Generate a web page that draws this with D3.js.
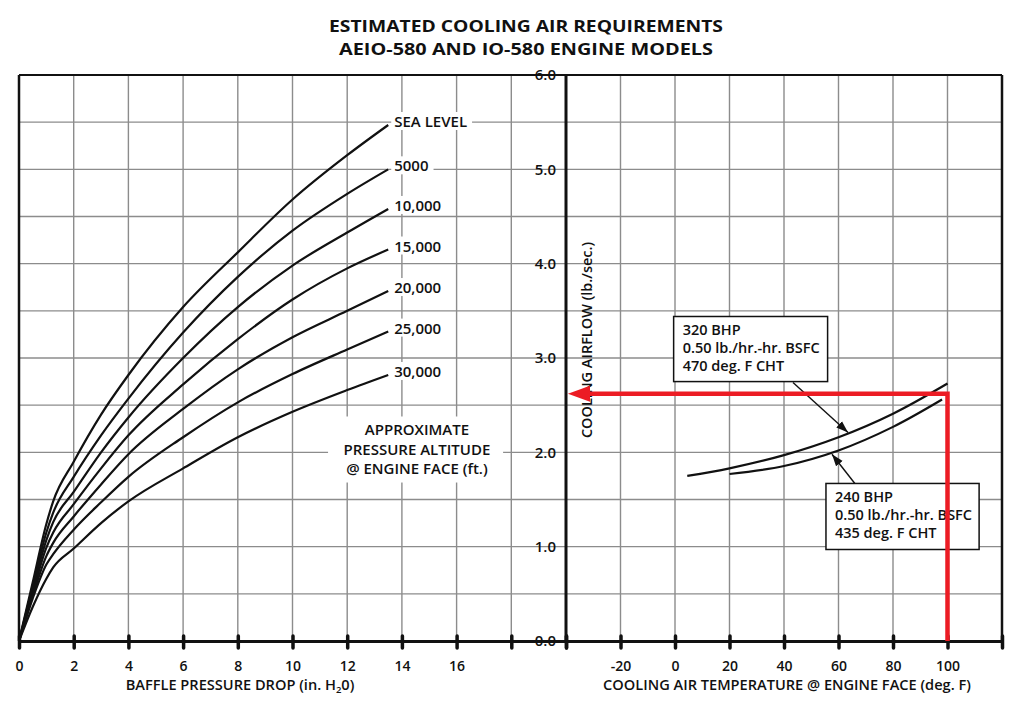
<!DOCTYPE html>
<html>
<head>
<meta charset="utf-8">
<script src="https://cdn.jsdelivr.net/npm/d3@7"></script>
<style>
  body { margin: 0; background: #fff; }
  svg text { font-family: "Open Sans", sans-serif; font-weight: 600; fill: #111; }
</style>
</head>
<body>
<svg id="chart" width="1024" height="713"></svg>
<script>
// left panel: airflow (lb/sec) against baffle pressure drop, one curve per altitude
var pressureDrop = [0, 0.5, 1, 1.25, 2, 3, 4, 6, 8, 10, 12, 13.5];
var altitudeLabels = ["SEA LEVEL", "5000", "10,000", "15,000", "20,000", "25,000", "30,000"];
var flowSeaLevel = [0, 0.62, 1.24, 1.48, 1.90, 2.40, 2.82, 3.54, 4.12, 4.68, 5.15, 5.47];
var flow5000     = [0, 0.58, 1.15, 1.36, 1.74, 2.18, 2.57, 3.27, 3.86, 4.35, 4.74, 5.00];
var flow10000    = [0, 0.55, 1.07, 1.26, 1.58, 2.00, 2.37, 3.00, 3.54, 3.98, 4.33, 4.58];
var flow15000    = [0, 0.51, 0.99, 1.15, 1.45, 1.83, 2.18, 2.72, 3.20, 3.62, 3.95, 4.15];
var flow20000    = [0, 0.48, 0.90, 1.04, 1.32, 1.66, 1.98, 2.46, 2.88, 3.22, 3.50, 3.71];
var flow25000    = [0, 0.45, 0.81, 0.92, 1.18, 1.47, 1.74, 2.16, 2.53, 2.83, 3.09, 3.28];
var flow30000    = [0, 0.36, 0.66, 0.78, 0.98, 1.25, 1.48, 1.83, 2.16, 2.43, 2.66, 2.82];
var flowByAltitude = [flowSeaLevel, flow5000, flow10000, flow15000, flow20000, flow25000, flow30000];

// right panel: airflow against cooling air temperature
var temp320 = [4.5, 20, 40, 60, 80, 100];
var flow320 = [1.75, 1.83, 1.97, 2.16, 2.41, 2.73];
var temp240 = [20, 40, 60, 80, 98];
var flow240 = [1.77, 1.855, 2.02, 2.27, 2.56];
var label320 = ["320 BHP", "0.50 lb./hr.-hr. BSFC", "470 deg. F CHT"];
var label240 = ["240 BHP", "0.50 lb./hr.-hr. BSFC", "435 deg. F CHT"];

// example reading shown in red
var exampleTemp = 100;
var exampleFlow = 2.62;

var pressureTicks = [0, 2, 4, 6, 8, 10, 12, 14, 16];
var tempTicks = [-20, 0, 20, 40, 60, 80, 100];
var flowTicks = [0, 1, 2, 3, 4, 5, 6];

var svg = d3.select("#chart");
var xL = d3.scaleLinear().domain([0, 20]).range([19, 566]);
var xR = d3.scaleLinear().domain([-40, 120]).range([566, 1002]);
var y = d3.scaleLinear().domain([0, 6]).range([641, 75]);

var defs = svg.append("defs");
defs.append("marker")
  .attr("id", "arrow")
  .attr("viewBox", "0 0 10 10")
  .attr("refX", 10).attr("refY", 5)
  .attr("markerWidth", 12).attr("markerHeight", 12)
  .attr("markerUnits", "userSpaceOnUse")
  .attr("orient", "auto")
  .append("path").attr("d", "M0,1.5 L10,5 L0,8.5 Z").attr("fill", "#111");

// title
var title = svg.append("g").attr("text-anchor", "middle");
title.append("text").attr("x", 526).attr("y", 32)
  .attr("font-size", 16.5).style("font-weight", 700)
  .attr("textLength", 394).attr("lengthAdjust", "spacingAndGlyphs")
  .text("ESTIMATED COOLING AIR REQUIREMENTS");
title.append("text").attr("x", 526).attr("y", 55)
  .attr("font-size", 16.5).style("font-weight", 700)
  .attr("textLength", 374).attr("lengthAdjust", "spacingAndGlyphs")
  .text("AEIO-580 AND IO-580 ENGINE MODELS");

// grid
var grid = svg.append("g").attr("stroke", "#8c8c8c").attr("stroke-width", 1.4);
grid.selectAll(".gl").data(d3.range(2, 20, 2)).enter().append("line")
  .attr("x1", d => xL(d)).attr("x2", d => xL(d))
  .attr("y1", y(0)).attr("y2", y(6));
grid.selectAll(".gr").data(d3.range(-20, 120, 20)).enter().append("line")
  .attr("x1", d => xR(d)).attr("x2", d => xR(d))
  .attr("y1", y(0)).attr("y2", y(6));
grid.selectAll(".gh").data(d3.range(0.5, 6, 0.5)).enter().append("line")
  .attr("x1", xL(0)).attr("x2", xR(120))
  .attr("y1", d => y(d)).attr("y2", d => y(d));

// white patch behind the altitude note
svg.append("rect")
  .attr("x", xL(11.3)).attr("y", y(2.38))
  .attr("width", xL(17.7) - xL(11.3)).attr("height", y(1.68) - y(2.38))
  .attr("fill", "#fff");

// frame
var frame = svg.append("g").attr("stroke", "#111").attr("fill", "none");
frame.append("line").attr("x1", xL(0)).attr("x2", xR(120)).attr("y1", y(6)).attr("y2", y(6)).attr("stroke-width", 2);
frame.append("line").attr("x1", xL(0)).attr("x2", xL(0)).attr("y1", y(0)).attr("y2", y(6)).attr("stroke-width", 2.5);
frame.append("line").attr("x1", xL(20)).attr("x2", xL(20)).attr("y1", y(0)).attr("y2", y(6)).attr("stroke-width", 3);
frame.append("line").attr("x1", xR(120)).attr("x2", xR(120)).attr("y1", y(0)).attr("y2", y(6)).attr("stroke-width", 2.5);

// bottom axes
function styleAxis(g) {
  g.select(".domain").attr("stroke", "#111").attr("stroke-width", 3);
  g.selectAll(".tick line").attr("y1", -5).attr("y2", 7)
    .attr("stroke", "#111").attr("stroke-width", 3.5).attr("stroke-linecap", "round");
  g.selectAll(".tick text").attr("font-size", 14).attr("fill", "#111")
    .style("font-family", "'Open Sans', sans-serif").style("font-weight", 600);
}
svg.append("g").attr("transform", "translate(0," + y(0) + ")")
  .call(d3.axisBottom(xL).tickValues(d3.range(0, 21, 2)).tickSizeOuter(0).tickPadding(14)
    .tickFormat(d => pressureTicks.indexOf(d) >= 0 ? d : ""))
  .call(styleAxis);
svg.append("g").attr("transform", "translate(0," + y(0) + ")")
  .call(d3.axisBottom(xR).tickValues(d3.range(-40, 121, 20)).tickSizeOuter(0).tickPadding(14)
    .tickFormat(d => tempTicks.indexOf(d) >= 0 ? d : ""))
  .call(styleAxis);

// airflow tick labels beside the divider
var yAxis = svg.append("g").attr("transform", "translate(" + (xL(20) - 10) + ",0)")
  .call(d3.axisLeft(y).tickValues(flowTicks).tickSize(0).tickPadding(0).tickFormat(d3.format(".1f")));
yAxis.select(".domain").remove();
yAxis.selectAll(".tick text").attr("font-size", 15).attr("fill", "#111")
  .style("font-family", "'Open Sans', sans-serif").style("font-weight", 600);

// axis titles
var xt = svg.append("text").attr("x", 240).attr("y", 690).attr("text-anchor", "middle").attr("font-size", 14.6);
xt.append("tspan").text("BAFFLE PRESSURE DROP (in. H");
xt.append("tspan").attr("font-size", 9.5).attr("dy", 3).text("2");
xt.append("tspan").attr("dy", -3).text("0)");
svg.append("text").attr("x", 787).attr("y", 690).attr("text-anchor", "middle").attr("font-size", 14.6)
  .text("COOLING AIR TEMPERATURE @ ENGINE FACE (deg. F)");
svg.append("text").attr("transform", "translate(592,340) rotate(-90)")
  .attr("text-anchor", "middle").attr("font-size", 14.5)
  .text("COOLING AIRFLOW (lb./sec.)");

// altitude curves
var altLine = d3.line()
  .x((d, i) => xL(pressureDrop[i]))
  .y(d => y(d))
  .curve(d3.curveMonotoneX);
svg.append("g").selectAll("path").data(flowByAltitude).enter().append("path")
  .attr("d", altLine)
  .attr("fill", "none").attr("stroke", "#111").attr("stroke-width", 2.2);

// altitude labels with white backing
var lastX = pressureDrop[pressureDrop.length - 1];
var altLab = svg.append("g").selectAll("g").data(altitudeLabels).enter().append("g");
altLab.append("text")
  .attr("x", xL(lastX) + 6)
  .attr("y", (d, i) => y(flowByAltitude[i][flowByAltitude[i].length - 1]) + 2)
  .attr("font-size", 15)
  .text(d => d);
altLab.each(function () {
  var g = d3.select(this);
  var b = g.select("text").node().getBBox();
  g.insert("rect", "text").attr("x", b.x - 3).attr("y", b.y + 1)
    .attr("width", b.width + 8).attr("height", b.height - 2).attr("fill", "#fff");
});

// altitude note
var note = svg.append("text").attr("text-anchor", "middle").attr("font-size", 15);
["APPROXIMATE", "PRESSURE ALTITUDE", "@ ENGINE FACE (ft.)"].forEach(function (t, i) {
  note.append("tspan").attr("x", xL(14.55)).attr("y", 435 + i * 19.5).text(t);
});

// power curves
var powerLine = d3.line().curve(d3.curveCatmullRom.alpha(0.5));
svg.append("path")
  .attr("d", powerLine(temp320.map((t, i) => [xR(t), y(flow320[i])])))
  .attr("fill", "none").attr("stroke", "#111").attr("stroke-width", 2.2);
svg.append("path")
  .attr("d", powerLine(temp240.map((t, i) => [xR(t), y(flow240[i])])))
  .attr("fill", "none").attr("stroke", "#111").attr("stroke-width", 2.2);

// callout boxes
function callout(lines, t0, t1, a0, a1) {
  var g = svg.append("g");
  g.append("rect").attr("x", xR(t0)).attr("y", y(a0))
    .attr("width", xR(t1) - xR(t0)).attr("height", y(a1) - y(a0))
    .attr("fill", "#fff").attr("stroke", "#111").attr("stroke-width", 1.5);
  lines.forEach(function (t, i) {
    g.append("text").attr("x", xR(t0) + 9).attr("y", y(a0) + 19 + i * 18)
      .attr("font-size", 14.5).text(t);
  });
}
callout(label320, -0.5, 56, 3.44, 2.75);
callout(label240, 55.4, 111.6, 1.67, 0.97);

// callout arrows
svg.append("line")
  .attr("x1", xR(43.3)).attr("y1", y(2.74)).attr("x2", xR(63.5)).attr("y2", y(2.21))
  .attr("stroke", "#111").attr("stroke-width", 1.4).attr("marker-end", "url(#arrow)");
svg.append("line")
  .attr("x1", xR(66)).attr("y1", y(1.67)).attr("x2", xR(57.6)).attr("y2", y(1.98))
  .attr("stroke", "#111").attr("stroke-width", 1.4).attr("marker-end", "url(#arrow)");

// red example reading
var red = "#ec1c24";
svg.append("path")
  .attr("d", d3.line()([[xR(exampleTemp), y(0)], [xR(exampleTemp), y(exampleFlow)], [xR(-31.5), y(exampleFlow)]]))
  .attr("fill", "none").attr("stroke", red).attr("stroke-width", 4.5).attr("stroke-linejoin", "miter");
svg.append("path")
  .attr("d", d3.line()([[xR(-39.3), y(exampleFlow)], [xR(-31.2), y(exampleFlow) - 8], [xR(-31.2), y(exampleFlow) + 8]]) + "Z")
  .attr("fill", red);
</script>
</body>
</html>
